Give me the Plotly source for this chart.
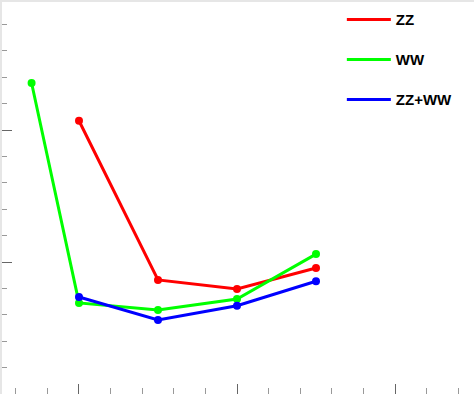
import plotly.graph_objects as go

# Data (axis units arbitrary: x major ticks at 1,2,3, y major at 0,1,2)
x_zz = [1.0, 1.5, 2.0, 2.5]
y_zz = [2.07, 0.864, 0.795, 0.955]

x_ww = [0.7, 1.0, 1.5, 2.0, 2.5]
y_ww = [2.356, 0.69, 0.636, 0.72, 1.06]

x_zzww = [1.0, 1.5, 2.0, 2.5]
y_zzww = [0.735, 0.561, 0.669, 0.854]

names = ["ZZ", "WW", "ZZ+WW"]
colors = ["#ff0000", "#00ff00", "#0000ff"]
xs = [x_zz, x_ww, x_zzww]
ys = [y_zz, y_ww, y_zzww]

fig = go.Figure()
for n, c, x, y in zip(names, colors, xs, ys):
    fig.add_trace(go.Scatter(x=x, y=y, mode="lines+markers", name=n,
                             line=dict(color=c, width=3),
                             marker=dict(color=c, size=8),
                             showlegend=False))
# legend entries: lines only
for i, (n, c) in enumerate(zip(names, colors)):
    fig.add_trace(go.Scatter(x=[None], y=[None], mode="lines", name=n,
                             line=dict(color=c, width=3),
                             legendgroup=f"g{i}", showlegend=True))

axis_common = dict(showgrid=False, zeroline=False, showline=False,
                   showticklabels=False, ticks="inside", ticklen=10,
                   tickcolor="#666666", tickwidth=1)

fig.update_layout(
    width=474, height=394,
    margin=dict(l=2, r=0, t=2, b=0),
    paper_bgcolor="#e6e6e6",
    plot_bgcolor="white",
    xaxis=dict(range=[0.5127, 3.5], tick0=0, dtick=1,
               minor=dict(dtick=0.2, tick0=0, ticks="inside", ticklen=6,
                          tickcolor="#999999", tickwidth=1),
               **axis_common),
    yaxis=dict(range=[0, 2.97], tick0=0, dtick=1,
               minor=dict(dtick=0.2, tick0=0, ticks="inside", ticklen=5,
                          tickcolor="#999999", tickwidth=1),
               **axis_common),
    legend=dict(x=0.72, y=0.997, xanchor="left", yanchor="top",
                bgcolor="rgba(0,0,0,0)", borderwidth=0,
                traceorder="grouped", tracegroupgap=17.5, itemwidth=44,
                font=dict(family="Liberation Sans, Arial", size=15,
                          color="black", weight="bold")),
    showlegend=True,
)

fig.write_html("out.html")
